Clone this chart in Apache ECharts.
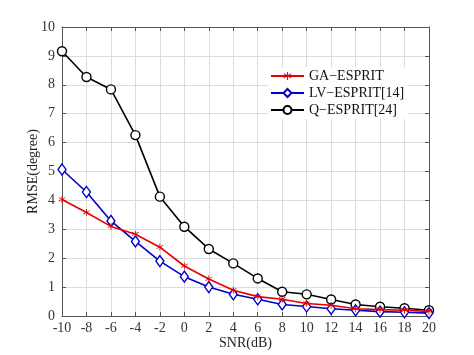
<!DOCTYPE html>
<html>
<head>
<meta charset="utf-8">
<script src="https://cdn.jsdelivr.net/npm/echarts@6/dist/echarts.min.js"></script>
<style>html,body{margin:0;padding:0;background:#fff}#c{width:474px;height:355px}</style>
</head>
<body>
<div id="c"></div>
<script>
const snr = [-10,-8,-6,-4,-2,0,2,4,6,8,10,12,14,16,18,20];
const gaEsprit = [4.03,3.58,3.10,2.83,2.38,1.73,1.28,0.89,0.67,0.58,0.43,0.37,0.25,0.22,0.20,0.16];
const lvEsprit = [5.07,4.29,3.29,2.58,1.90,1.36,1.00,0.75,0.58,0.40,0.33,0.25,0.20,0.15,0.13,0.10];
const qEsprit = [9.16,8.27,7.84,6.26,4.13,3.09,2.32,1.82,1.30,0.84,0.75,0.57,0.40,0.32,0.27,0.20];
const seriesNames = ['GA\u2212ESPRIT','LV\u2212ESPRIT[14]','Q\u2212ESPRIT[24]'];

const font = '"Liberation Serif","DejaVu Serif",serif';
const pair = (arr) => snr.map((x,i)=>[x,arr[i]]);
const asterisk = 'path://M9,0 L11,0 L11,7.6 L17.2,3.2 L18.3,4.9 L12.1,9.3 L18.3,13.7 L17.2,15.4 L11,11 L11,20 L9,20 L9,11 L2.8,15.4 L1.7,13.7 L7.9,9.3 L1.7,4.9 L2.8,3.2 L9,7.6 Z';

const chart = echarts.init(document.getElementById('c'), null, {renderer:'canvas'});
const axisCommon = {
  axisLine:{show:true,onZero:false,lineStyle:{color:'#555',width:1}},
  axisTick:{show:true,inside:true,length:4,lineStyle:{color:'#555'}},
};
chart.setOption({
  animation:false,
  backgroundColor:'#fff',
  grid:{left:62,right:45,top:27,bottom:39,containLabel:false,outerBoundsMode:'none'},
  legend:{
    left:268, top:67, orient:'vertical', itemWidth:33, itemHeight:10, itemGap:3,
    backgroundColor:'#fff', padding:[2,4,2,2],
    textStyle:{fontFamily:font,fontSize:14,color:'#111'},
    data:seriesNames
  },
  xAxis:[{
    type:'value',min:-10,max:20,interval:2,position:'bottom',
    name:'SNR(dB)',nameLocation:'middle',nameGap:20,nameMoveOverlap:false,
    nameTextStyle:{fontFamily:font,fontSize:14,color:'#222'},
    axisLabel:{fontFamily:font,fontSize:14,color:'#333',margin:5},
    splitLine:{show:true,lineStyle:{color:'#dcdcdc',width:1}},
    ...axisCommon
  },{
    type:'value',min:-10,max:20,interval:2,position:'top',
    axisLabel:{show:false},splitLine:{show:false},...axisCommon
  }],
  yAxis:[{
    type:'value',min:0,max:10,interval:1,position:'left',
    name:'RMSE(degree)',nameLocation:'middle',nameGap:22,nameMoveOverlap:false,
    nameTextStyle:{fontFamily:font,fontSize:14,color:'#222'},
    axisLabel:{fontFamily:font,fontSize:14,color:'#333',margin:7},
    splitLine:{show:true,lineStyle:{color:'#dcdcdc',width:1}},
    ...axisCommon
  },{
    type:'value',min:0,max:10,interval:1,position:'right',
    axisLabel:{show:false},splitLine:{show:false},...axisCommon
  }],
  series:[
    {name:seriesNames[0],type:'line',data:pair(gaEsprit),color:'#e60000',
     symbol:asterisk,symbolSize:7,showAllSymbol:true,z:4,
     lineStyle:{width:1.6,color:'#e60000'},itemStyle:{color:'#e60000'}},
    {name:seriesNames[1],type:'line',data:pair(lvEsprit),color:'#0000c8',
     symbol:'diamond',symbolSize:[8,11],showAllSymbol:true,z:3,
     lineStyle:{width:1.6,color:'#0000c8'},itemStyle:{color:'#fff',borderColor:'#0000c8',borderWidth:1.4}},
    {name:seriesNames[2],type:'line',data:pair(qEsprit),color:'#000',
     symbol:'circle',symbolSize:9,showAllSymbol:true,z:2,
     lineStyle:{width:1.6,color:'#000'},itemStyle:{color:'#fff',borderColor:'#000',borderWidth:1.4}}
  ]
});
</script>
</body>
</html>
